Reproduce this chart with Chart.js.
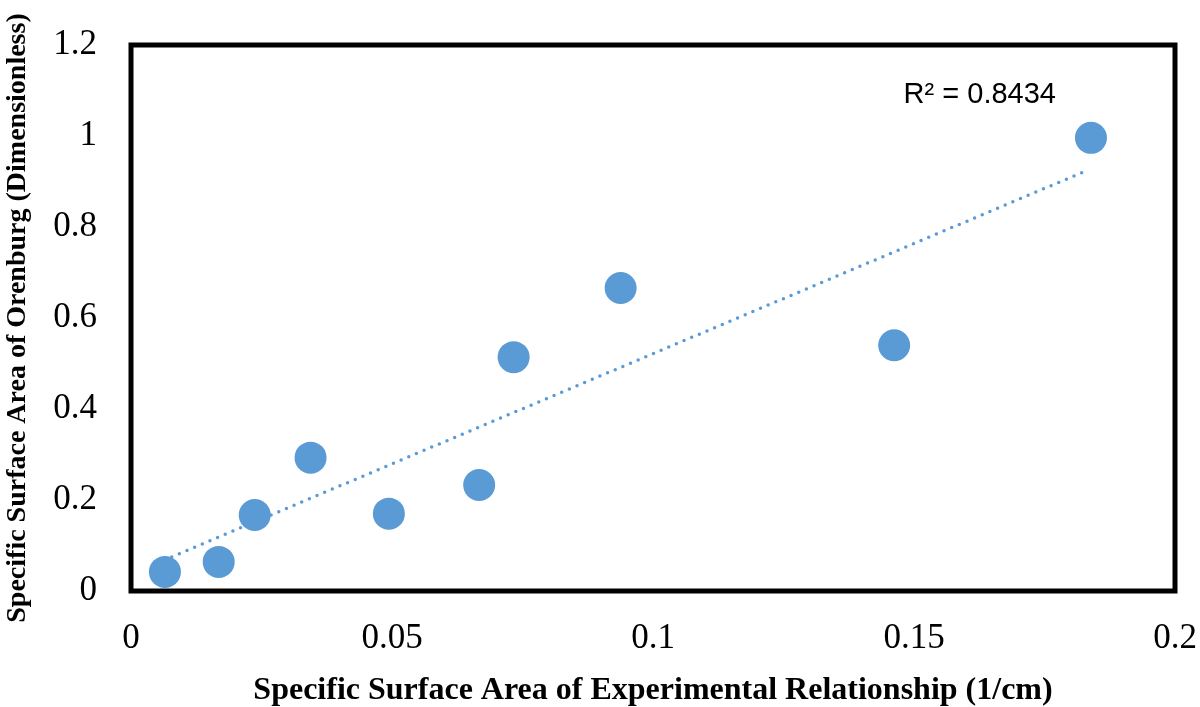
<!DOCTYPE html>
<html>
<head>
<meta charset="utf-8">
<script src="https://cdn.jsdelivr.net/npm/chart.js@4.4.1/dist/chart.umd.min.js"></script>
<style>
    body { margin: 0; background: #ffffff; }
    #wrap { width: 1200px; height: 707px; position: relative; }
</style>
</head>
<body>
<div id="wrap"><canvas id="graph"></canvas></div>
<script>
// measured points (x: experimental, y: Orenburg)
const expArea = [0.0065, 0.0168, 0.0237, 0.0344, 0.0494, 0.0667, 0.0733, 0.0938, 0.1462, 0.1839]
const orenArea = [0.042, 0.064, 0.167, 0.293, 0.170, 0.233, 0.514, 0.666, 0.540, 0.996]

// linear trendline end points
const trendX = [0.0078, 0.1833]
const trendY = [0.075, 0.925]

const xTicks = [0, 0.05, 0.1, 0.15, 0.2]
const yTicks = [0, 0.2, 0.4, 0.6, 0.8, 1, 1.2]
const rSquaredText = 'R² = 0.8434'
const rSquaredAt = [0.1626, 1.09]

const blue = '#5B9BD5'

const points = expArea.map((x, i) => ({x: x, y: orenArea[i]}))
const trend = trendX.map((x, i) => ({x: x, y: trendY[i]}))

const frame = {
    id: 'frame',
    afterDatasetsDraw(chart)
    {
        const a = chart.chartArea
        const ctx = chart.ctx
        ctx.save()
        ctx.lineWidth = 5
        ctx.strokeStyle = '#000000'
        ctx.strokeRect(a.left, a.top, a.right - a.left, a.bottom - a.top)

        // R squared label
        const sx = chart.scales.x
        const sy = chart.scales.y
        ctx.fillStyle = '#000000'
        ctx.font = '29px "Liberation Sans", Arial, sans-serif'
        ctx.textAlign = 'center'
        ctx.textBaseline = 'middle'
        ctx.fillText(rSquaredText, sx.getPixelForValue(rSquaredAt[0]), sy.getPixelForValue(rSquaredAt[1]))
        ctx.restore()
    }
}

new Chart(document.querySelector('#graph'),
{
    type: 'scatter',
    data:
    {
        datasets:
        [
            {
                data: points,
                backgroundColor: blue,
                borderWidth: 0,
                pointRadius: 16,
                pointHoverRadius: 16
            },
            {
                data: trend,
                showLine: true,
                borderColor: blue,
                borderWidth: 3.5,
                borderDash: [0, 8.3],
                borderCapStyle: 'round',
                pointRadius: 0
            }
        ]
    },
    options:
    {
        responsive: true,
        maintainAspectRatio: false,
        animation: false,
        layout: {padding: {top: 45, right: 25, left: 0, bottom: 0}},
        plugins:
        {
            legend: {display: false},
            tooltip: {enabled: false}
        },
        scales:
        {
            x:
            {
                type: 'linear',
                min: 0,
                max: 0.2,
                afterBuildTicks: (axis) => { axis.ticks = xTicks.map(v => ({value: v})) },
                afterFit: (axis) =>
                {
                    axis.height = 116
                    axis.paddingLeft = 0
                    axis.paddingRight = 0
                },
                grid: {display: false, drawTicks: false},
                border: {display: false},
                ticks:
                {
                    padding: 27,
                    color: '#000000',
                    font: {family: '"Liberation Serif", "Times New Roman", serif', size: 35},
                    callback: (v) => String(v)
                },
                title:
                {
                    display: true,
                    text: 'Specific Surface Area of Experimental Relationship (1/cm)',
                    color: '#000000',
                    padding: 0,
                    font: {family: '"Liberation Serif", "Times New Roman", serif', size: 32, weight: 'bold', lineHeight: 1}
                }
            },
            y:
            {
                type: 'linear',
                min: 0,
                max: 1.2,
                afterBuildTicks: (axis) => { axis.ticks = yTicks.map(v => ({value: v})) },
                afterFit: (axis) =>
                {
                    axis.width = 131
                    axis.paddingTop = 0
                    axis.paddingBottom = 0
                },
                grid: {display: false, drawTicks: false},
                border: {display: false},
                ticks:
                {
                    padding: 34,
                    color: '#000000',
                    font: {family: '"Liberation Serif", "Times New Roman", serif', size: 35},
                    callback: (v) => String(v)
                },
                title:
                {
                    display: true,
                    text: 'Specific Surface Area of Orenburg (Dimensionless)',
                    color: '#000000',
                    padding: {top: 1, bottom: 0},
                    font: {family: '"Liberation Serif", "Times New Roman", serif', size: 28, weight: 'bold'}
                }
            }
        }
    },
    plugins: [frame]
})
</script>
</body>
</html>
